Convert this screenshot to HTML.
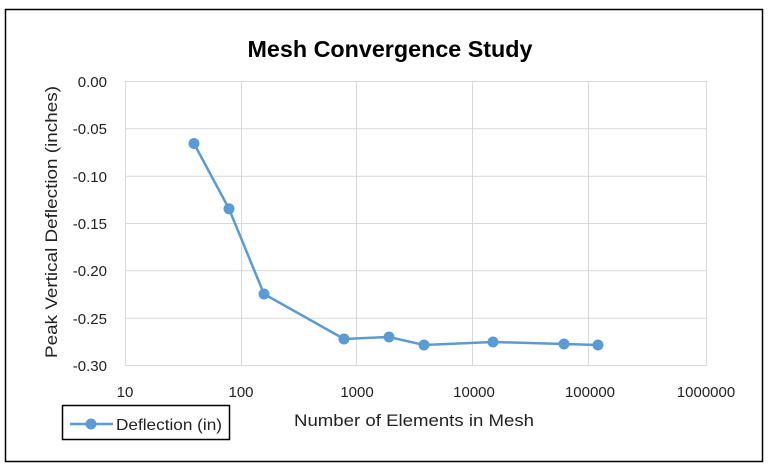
<!DOCTYPE html>
<html><head><style>html,body{margin:0;padding:0;background:#fff}</style></head><body>
<svg width="768" height="467" viewBox="0 0 768 467" xmlns="http://www.w3.org/2000/svg" font-family="Liberation Sans, sans-serif">
<rect x="5.5" y="9.5" width="757" height="452" fill="#fff" stroke="#000" stroke-width="1.5"/>
<text x="390" y="57" font-size="23" font-weight="bold" text-anchor="middle" textLength="285" lengthAdjust="spacingAndGlyphs">Mesh Convergence Study</text>
<g stroke="#d9d9d9" stroke-width="1" fill="none">
<line x1="125" y1="81.5" x2="707" y2="81.5"/>
<line x1="125" y1="128.8" x2="707" y2="128.8"/>
<line x1="125" y1="176.2" x2="707" y2="176.2"/>
<line x1="125" y1="223.5" x2="707" y2="223.5"/>
<line x1="125" y1="270.8" x2="707" y2="270.8"/>
<line x1="125" y1="318.2" x2="707" y2="318.2"/>
<line x1="125" y1="365.5" x2="707" y2="365.5"/>
<line x1="125.5" y1="81" x2="125.5" y2="365"/>
<line x1="241.5" y1="81" x2="241.5" y2="365"/>
<line x1="356.5" y1="81" x2="356.5" y2="365"/>
<line x1="472.5" y1="81" x2="472.5" y2="365"/>
<line x1="588.5" y1="81" x2="588.5" y2="365"/>
<line x1="706.5" y1="81" x2="706.5" y2="365"/>
</g>
<g font-size="15" fill="#222" text-anchor="end">
<text x="107" y="87">0.00</text>
<text x="107" y="134">-0.05</text>
<text x="107" y="182">-0.10</text>
<text x="107" y="229">-0.15</text>
<text x="107" y="276">-0.20</text>
<text x="107" y="324">-0.25</text>
<text x="107" y="371">-0.30</text>
</g>
<g font-size="15" fill="#222" text-anchor="middle">
<text x="125" y="397">10</text>
<text x="241" y="397">100</text>
<text x="357" y="397">1000</text>
<text x="474" y="397">10000</text>
<text x="590" y="397">100000</text>
<text x="706" y="397">1000000</text>
</g>
<text x="414" y="426" font-size="17" text-anchor="middle" fill="#222" textLength="240" lengthAdjust="spacingAndGlyphs">Number of Elements in Mesh</text>
<text transform="translate(57,222) rotate(-90)" font-size="17" text-anchor="middle" fill="#222" textLength="272" lengthAdjust="spacingAndGlyphs">Peak Vertical Deflection (inches)</text>
<polyline fill="none" stroke="#5b9bd5" stroke-width="2.5" points="194,143.5 229,208.8 264,294 344,339 389,337 424,345 493,342 564,344 598,345"/>
<g fill="#5b9bd5">
<circle cx="194" cy="143.5" r="5.5"/><circle cx="229" cy="208.8" r="5.5"/><circle cx="264" cy="294" r="5.5"/>
<circle cx="344" cy="339" r="5.5"/><circle cx="389" cy="337" r="5.5"/><circle cx="424" cy="345" r="5.5"/>
<circle cx="493" cy="342" r="5.5"/><circle cx="564" cy="344" r="5.5"/><circle cx="598" cy="345" r="5.5"/>
</g>
<rect x="62.5" y="405.5" width="167" height="34" fill="#fff" stroke="#000" stroke-width="1.5"/>
<line x1="70" y1="424" x2="113" y2="424" stroke="#5b9bd5" stroke-width="2.5"/>
<circle cx="91" cy="424" r="5.5" fill="#5b9bd5"/>
<text x="116" y="430" font-size="16" fill="#222" textLength="106" lengthAdjust="spacingAndGlyphs">Deflection (in)</text>
</svg>
</body></html>
